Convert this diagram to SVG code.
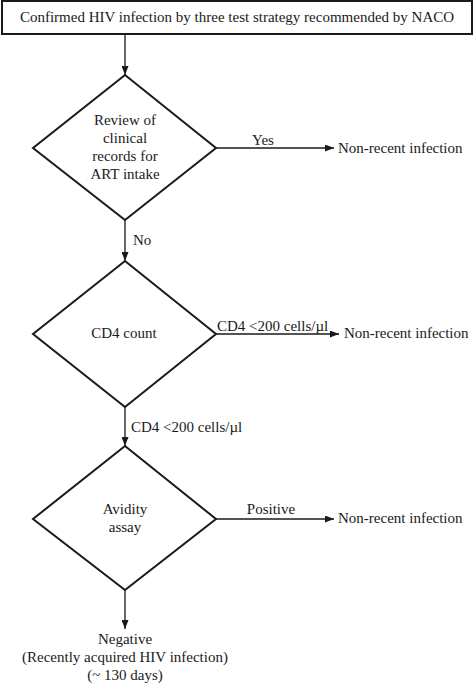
<svg xmlns="http://www.w3.org/2000/svg" width="474" height="685" viewBox="0 0 474 685">
<defs>
<marker id="ah" markerWidth="9" markerHeight="7" refX="9" refY="3.5" orient="auto" markerUnits="userSpaceOnUse">
<path d="M0,0 L9,3.5 L0,7 Z" fill="#1a1a1a"/>
</marker>
<style>
.c{text-anchor:middle}
.n{fill:#fff;stroke:#1a1a1a;stroke-width:2}
.e{stroke:#1a1a1a;stroke-width:1.3;fill:none;marker-end:url(#ah)}
</style>
</defs>
<rect width="474" height="685" fill="#fff"/>
<g font-family="Liberation Serif, 'Times New Roman', 'DejaVu Serif', serif" font-size="15" fill="#1a1a1a">
<g id="start">
<rect class="n" x="2" y="1" width="470" height="33"/>
<text class="c" x="237" y="22">Confirmed HIV infection by three test strategy recommended by NACO</text>
</g>
<g id="review">
<polygon class="n" points="125,75 216,148 125,220 33,148"/>
<text class="c" x="125" y="125">Review of</text>
<text class="c" x="125" y="143">clinical</text>
<text class="c" x="125" y="161">records for</text>
<text class="c" x="125" y="179">ART intake</text>
</g>
<g id="cd4">
<polygon class="n" points="125,261 216,334 125,407 33,334"/>
<text class="c" x="124" y="338">CD4 count</text>
</g>
<g id="avidity">
<polygon class="n" points="125,446 216,519 125,590 33,519"/>
<text class="c" x="125" y="514">Avidity</text>
<text class="c" x="125" y="532">assay</text>
</g>
<g id="out1"><text x="338" y="153">Non-recent infection</text></g>
<g id="out2"><text x="344" y="338">Non-recent infection</text></g>
<g id="out3"><text x="338" y="523">Non-recent infection</text></g>
<g id="recent">
<text class="c" x="125" y="644">Negative</text>
<text class="c" x="125" y="662">(Recently acquired HIV infection)</text>
<text class="c" x="125" y="680">(~ 130 days)</text>
</g>
<g id="connectors">
<line class="e" x1="125" y1="35" x2="125" y2="75"/>
<line class="e" x1="216" y1="148" x2="334" y2="148"/>
<line class="e" x1="125" y1="220" x2="125" y2="261"/>
<line class="e" x1="216" y1="334" x2="339" y2="334"/>
<line class="e" x1="125" y1="407" x2="125" y2="446"/>
<line class="e" x1="216" y1="519" x2="334" y2="519"/>
<line class="e" x1="125" y1="590" x2="125" y2="629"/>
<text class="c" x="263" y="145">Yes</text>
<text x="133" y="245">No</text>
<text x="217" y="331">CD4 &lt;200 cells/µl</text>
<text x="131" y="432">CD4 &lt;200 cells/µl</text>
<text class="c" x="271" y="514">Positive</text>
</g>
</g>
</svg>
